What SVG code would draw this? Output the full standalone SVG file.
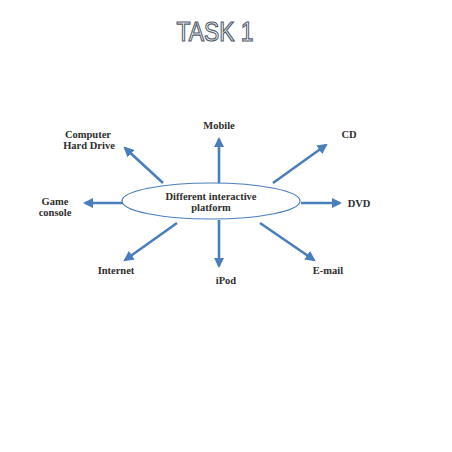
<svg xmlns="http://www.w3.org/2000/svg" width="452" height="452" viewBox="0 0 452 452">
<style>
.lbl{font-family:"Liberation Serif","Times New Roman",serif;font-size:10.5px;font-weight:bold;fill:#2e2e2e;text-anchor:middle}
.arr{stroke:#4a7ebb;stroke-width:2.6;fill:none;marker-end:url(#ah)}
.title{font-family:"Liberation Sans",Arial,sans-serif;font-size:27px;fill:#ffffff;stroke:#4f5b6b;stroke-width:1.2;text-anchor:middle}
</style>
<defs>
<marker id="ah" markerWidth="4" markerHeight="4" refX="3.2" refY="2" orient="auto" markerUnits="strokeWidth">
<path d="M0,0 L4,2 L0,4 Z" fill="#4a7ebb"/>
</marker>
</defs>
<rect width="452" height="452" fill="#ffffff"/>
<g id="title"><text class="title" x="215" y="41" textLength="77" lengthAdjust="spacingAndGlyphs">TASK 1</text></g>
<g id="connectors">
<line class="arr" x1="219" y1="183" x2="219" y2="139"/>
<line class="arr" x1="273" y1="183" x2="326" y2="145"/>
<line class="arr" x1="301" y1="203" x2="340" y2="203"/>
<line class="arr" x1="260" y1="223" x2="314" y2="260"/>
<line class="arr" x1="219" y1="220" x2="219" y2="266"/>
<line class="arr" x1="177" y1="223" x2="125" y2="260"/>
<line class="arr" x1="123" y1="203" x2="85" y2="203"/>
<line class="arr" x1="163" y1="183" x2="125" y2="148"/>
</g>
<g id="center">
<ellipse cx="211" cy="201" rx="89" ry="18" fill="#ffffff" stroke="#4a7ebb" stroke-width="1.2"/>
<text class="lbl" x="211" y="200">Different interactive</text>
<text class="lbl" x="211" y="211">platform</text>
</g>
<g id="mobile"><text class="lbl" x="219" y="129">Mobile</text></g>
<g id="cd"><text class="lbl" x="349" y="138">CD</text></g>
<g id="dvd"><text class="lbl" x="359" y="207">DVD</text></g>
<g id="email"><text class="lbl" x="328" y="274">E-mail</text></g>
<g id="ipod"><text class="lbl" x="226" y="284">iPod</text></g>
<g id="internet"><text class="lbl" x="116" y="274">Internet</text></g>
<g id="game"><text class="lbl" x="55" y="205">Game</text><text class="lbl" x="55" y="216">console</text></g>
<g id="computer"><text class="lbl" x="88" y="138">Computer</text><text class="lbl" x="89" y="149">Hard Drive</text></g>
</svg>
